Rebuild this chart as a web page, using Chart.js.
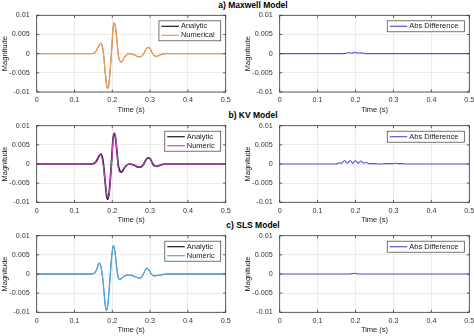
<!DOCTYPE html>
<html>
<head>
<meta charset="utf-8">
<script src="https://cdn.jsdelivr.net/npm/chart.js@4/dist/chart.umd.min.js"></script>
<style>
body { margin: 0; background: #fff; width: 474px; height: 336px; overflow: hidden; position: relative; font-family: "Liberation Sans", Arial, sans-serif; }
canvas { position: absolute; }
.ttl { position: absolute; left: 0; width: 506px; text-align: center; font-weight: bold; font-size: 8.5px; line-height: 10px; color: #000; }
</style>
</head>
<body>
<div class="ttl" id="t0" style="top:0px"></div>
<div class="ttl" id="t1" style="top:110px"></div>
<div class="ttl" id="t2" style="top:220px"></div>
<canvas id="c0"></canvas><canvas id="c1"></canvas>
<canvas id="c2"></canvas><canvas id="c3"></canvas>
<canvas id="c4"></canvas><canvas id="c5"></canvas>
<script>
// ---- data ----
var panelTitles = ["a) Maxwell Model", "b) KV Model", "c) SLS Model"];
var xTickLabels = ["0", "0.1", "0.2", "0.3", "0.4", "0.5"];
var yTickLabels = ["-0.01", "-0.005", "0", "0.005", "0.01"];
var yTickValues = [-0.01, -0.005, 0, 0.005, 0.01];

// wavelet time samples (Maxwell + KV)
var tWave = [0, 0.14, 0.15, 0.155, 0.16, 0.165, 0.169, 0.173, 0.177, 0.181,
  0.185, 0.188, 0.191, 0.195, 0.199, 0.202, 0.205, 0.208, 0.212, 0.216,
  0.22, 0.224, 0.23, 0.237, 0.245, 0.252, 0.26, 0.268, 0.275, 0.282,
  0.288, 0.294, 0.3, 0.306, 0.312, 0.318, 0.325, 0.333, 0.34, 0.5];

var maxwellAnalytic = [0, 0, 0.0001, 0.0004, 0.0012, 0.0022, 0.0027, 0.0021, -0.0003, -0.0048,
  -0.0082, -0.0091, -0.0079, -0.0036, 0.0020, 0.0066, 0.0080, 0.0071, 0.0038, -0.0004,
  -0.0019, -0.0022, -0.0013, -0.0004, 0.0000, -0.0001, -0.0004, -0.0008, -0.0008, -0.0002,
  0.0009, 0.0016, 0.0013, 0.0001, -0.0006, -0.0007, -0.0004, -0.0001, 0, 0];
var maxwellNumerical = [0, 0, 0.0001, 0.0004, 0.0012, 0.0022, 0.0027, 0.0021, -0.0003, -0.0045,
  -0.0082, -0.0091, -0.0079, -0.0036, 0.0024, 0.0066, 0.0080, 0.0071, 0.0036, -0.0004,
  -0.0019, -0.0022, -0.0013, -0.0004, 0.0000, -0.0001, -0.0004, -0.0008, -0.0008, -0.0002,
  0.0009, 0.0016, 0.0013, 0.0001, -0.0006, -0.0007, -0.0004, -0.0001, 0, 0];

var kvAnalytic = [0, 0, 0.0001, 0.0004, 0.0011, 0.0021, 0.0026, 0.0020, -0.0004, -0.0046,
  -0.0083, -0.0092, -0.0080, -0.0037, 0.0023, 0.0066, 0.0080, 0.0071, 0.0036, -0.0004,
  -0.0018, -0.0021, -0.0013, -0.0004, 0.0000, -0.0001, -0.0004, -0.0008, -0.0008, -0.0002,
  0.0009, 0.0016, 0.0014, 0.0002, -0.0005, -0.0006, -0.0004, -0.0001, 0, 0];
var kvNumeric = [0, 0, 0.0001, 0.0005, 0.0014, 0.0023, 0.0025, 0.0014, -0.0009, -0.0046,
  -0.0076, -0.0089, -0.0084, -0.0040, 0.0017, 0.0063, 0.0082, 0.0076, 0.0038, -0.0010,
  -0.0022, -0.0020, -0.0012, -0.0004, 0.0000, -0.0001, -0.0004, -0.0008, -0.0008, -0.0002,
  0.0009, 0.0017, 0.0014, 0.0002, -0.0005, -0.0006, -0.0004, -0.0001, 0, 0];

// SLS time samples
var tSls = [0, 0.14, 0.15, 0.155, 0.16, 0.165, 0.169, 0.173, 0.177, 0.181,
  0.184, 0.187, 0.191, 0.195, 0.199, 0.203, 0.207, 0.211, 0.215, 0.22,
  0.226, 0.233, 0.24, 0.247, 0.255, 0.263, 0.272, 0.279, 0.285, 0.291,
  0.297, 0.304, 0.31, 0.318, 0.326, 0.335, 0.345, 0.5];
var slsAnalytic = [0, 0, 0.0001, 0.0005, 0.0015, 0.0029, 0.0022, 0.0002, -0.0035, -0.0078,
  -0.0095, -0.0088, -0.0050, 0.0003, 0.0052, 0.0074, 0.0058, 0.0022, -0.0006, -0.0014,
  -0.0010, -0.0005, -0.0003, -0.0003, -0.0005, -0.0008, -0.0011, -0.0006, 0.0006, 0.0015,
  0.0010, -0.0001, -0.0005, -0.0004, -0.0003, -0.0001, 0, 0];
var slsNumeric = [0, 0, 0.0001, 0.0005, 0.0015, 0.0029, 0.0022, 0.0002, -0.0035, -0.0078,
  -0.0095, -0.0088, -0.0050, 0.0005, 0.0052, 0.0074, 0.0058, 0.0022, -0.0006, -0.0014,
  -0.0010, -0.0005, -0.0003, -0.0003, -0.0005, -0.0008, -0.0011, -0.0006, 0.0006, 0.0015,
  0.0010, -0.0001, -0.0005, -0.0004, -0.0003, -0.0001, 0, 0];

// absolute differences
var tDiffMaxwell = [0, 0.17, 0.176, 0.182, 0.188, 0.194, 0.2, 0.206, 0.213, 0.22, 0.23, 0.5];
var diffMaxwell = [0, 0, 0.0001, 0.0003, 0.0001, 0.0002, 0.0004, 0.0001, 0.0002, 0.0001, 0, 0];
var tDiffKv = [0, 0.145, 0.152, 0.157, 0.163, 0.171, 0.178, 0.186, 0.193, 0.2,
  0.207, 0.214, 0.221, 0.228, 0.236, 0.25, 0.265, 0.28, 0.295, 0.306,
  0.315, 0.325, 0.335, 0.35, 0.5];
var diffKv = [0, 0, 0.0001, 0.0003, 0.0002, 0.0009, 0.0002, 0.0009, 0.0002, 0.0009,
  0.0002, 0.0008, 0.0002, 0.0004, 0.0001, 0.0001, 0, 0.0001, 0.0001, 0.0002,
  0.0001, 0.0001, 0, 0, 0];
var tDiffSls = [0, 0.18, 0.19, 0.196, 0.203, 0.215, 0.5];
var diffSls = [0, 0, 0.0001, 0.0002, 0.0001, 0, 0];

// ---- layout ----
var cols = [{ left: 0, width: 232, yW: 36.7, padR: 6.3 }, { left: 243, width: 231, yW: 36.7, padR: 4.7 }];
var chartTop = [15.3, 125.7, 235.7];
var chartBot = [92, 202.3, 312.3];
var FONT = '"Liberation Sans", Arial, sans-serif';

function pts(t, v) {
  var out = [];
  for (var i = 0; i < t.length; i++) out.push({ x: t[i], y: v[i] });
  return out;
}

// frame, inward ticks and a MATLAB-like legend box inside the plot
var boxLegend = {
  id: 'boxLegend',
  afterDatasetsDraw: function(chart) {
    var ctx = chart.ctx, a = chart.chartArea;
    var xs = chart.scales.x, ys = chart.scales.y;
    ctx.save();
    ctx.strokeStyle = '#3a3a3a';
    ctx.lineWidth = 0.8;
    ctx.strokeRect(a.left, a.top, a.right - a.left, a.bottom - a.top);
    ctx.beginPath();
    xs.ticks.forEach(function(tk) {
      var px = xs.getPixelForValue(tk.value);
      ctx.moveTo(px, a.bottom); ctx.lineTo(px, a.bottom - 2.5);
      ctx.moveTo(px, a.top); ctx.lineTo(px, a.top + 2.5);
    });
    ys.ticks.forEach(function(tk) {
      var py = ys.getPixelForValue(tk.value);
      ctx.moveTo(a.left, py); ctx.lineTo(a.left + 2.5, py);
      ctx.moveTo(a.right, py); ctx.lineTo(a.right - 2.5, py);
    });
    ctx.stroke();

    var sets = chart.data.datasets;
    ctx.font = '7.5px ' + FONT;
    var tw = 0;
    sets.forEach(function(d) { tw = Math.max(tw, ctx.measureText(d.label).width); });
    var rowH = 9, w = 22 + tw + 6, h = sets.length * rowH + 2;
    var x1 = a.right - 5 - w, y1 = a.top + 5.5;
    ctx.fillStyle = '#fff';
    ctx.fillRect(x1, y1, w, h);
    ctx.strokeStyle = '#3a3a3a';
    ctx.lineWidth = 0.7;
    ctx.strokeRect(x1, y1, w, h);
    sets.forEach(function(d, i) {
      var cy = y1 + 1 + rowH / 2 + rowH * i;
      ctx.strokeStyle = d.borderColor;
      ctx.lineWidth = 1.2;
      ctx.beginPath(); ctx.moveTo(x1 + 2.5, cy); ctx.lineTo(x1 + 20, cy); ctx.stroke();
      ctx.fillStyle = '#222';
      ctx.textBaseline = 'middle';
      ctx.fillText(d.label, x1 + 22, cy);
    });
    ctx.restore();
  }
};

function makeChart(idx, col, row, datasets) {
  var cv = document.getElementById('c' + idx);
  var c = cols[col];
  var top = Math.floor(chartTop[row] - 6);
  var height = 105;
  cv.width = c.width; cv.height = height;
  cv.style.left = c.left + 'px'; cv.style.top = top + 'px';
  cv.style.width = c.width + 'px'; cv.style.height = height + 'px';
  var xH = height - (chartBot[row] - top);
  return new Chart(cv, {
    type: 'line',
    data: { datasets: datasets },
    options: {
      responsive: false,
      animation: false,
      events: [],
      layout: { padding: { left: 0, right: c.padR, top: chartTop[row] - top, bottom: 0 } },
      elements: { point: { radius: 0 }, line: { cubicInterpolationMode: 'monotone' } },
      plugins: { legend: { display: false }, tooltip: { enabled: false } },
      scales: {
        x: {
          type: 'linear', min: 0, max: 0.5,
          grid: { color: '#e6e6e6', lineWidth: 0.8, drawTicks: false },
          border: { display: false },
          ticks: {
            stepSize: 0.1, maxRotation: 0, autoSkip: false, padding: 4,
            color: '#333', font: { family: FONT, size: 7.2 },
            callback: function(v) { return xTickLabels[Math.round(v * 10)]; }
          },
          title: { display: true, text: 'Time (s)', color: '#222', padding: 0, font: { family: FONT, size: 7.5 } },
          afterFit: function(s) { s.height = xH; s.paddingLeft = 0; s.paddingRight = 0; }
        },
        y: {
          type: 'linear', min: -0.01, max: 0.01,
          grid: { color: '#e6e6e6', lineWidth: 0.8, drawTicks: false },
          border: { display: false },
          ticks: {
            stepSize: 0.005, autoSkip: false, padding: 7,
            color: '#333', font: { family: FONT, size: 7.2 },
            callback: function(v) {
              for (var i = 0; i < yTickValues.length; i++) {
                if (Math.abs(v - yTickValues[i]) < 1e-9) return yTickLabels[i];
              }
              return '';
            }
          },
          title: { display: true, text: 'Magnitude', color: '#222', padding: 0, font: { family: FONT, size: 7.5 } },
          afterFit: function(s) { s.width = c.yW; s.paddingTop = 0; s.paddingBottom = 0; }
        }
      }
    },
    plugins: [boxLegend]
  });
}

function waveSets(t, analytic, numeric, numLabel, numColor, aW, nW) {
  return [
    { label: 'Analytic', data: pts(t, analytic), borderColor: '#1a1a1a', borderWidth: aW, order: 1 },
    { label: numLabel, data: pts(t, numeric), borderColor: numColor, borderWidth: nW, order: 0 }
  ];
}
function diffSets(t, v) {
  return [{ label: 'Abs Difference', data: pts(t, v), borderColor: '#5555e6', borderWidth: 1.1 }];
}

for (var i = 0; i < 3; i++) document.getElementById('t' + i).textContent = panelTitles[i];

makeChart(0, 0, 0, waveSets(tWave, maxwellAnalytic, maxwellNumerical, 'Numerical', '#ee9b50', 0.6, 1.3));
makeChart(1, 1, 0, diffSets(tDiffMaxwell, diffMaxwell));
makeChart(2, 0, 1, waveSets(tWave, kvAnalytic, kvNumeric, 'Numeric', '#e040e0', 1.7, 1));
makeChart(3, 1, 1, diffSets(tDiffKv, diffKv));
makeChart(4, 0, 2, waveSets(tSls, slsAnalytic, slsNumeric, 'Numeric', '#4da8e2', 0.6, 1.3));
makeChart(5, 1, 2, diffSets(tDiffSls, diffSls));
</script>
</body>
</html>
